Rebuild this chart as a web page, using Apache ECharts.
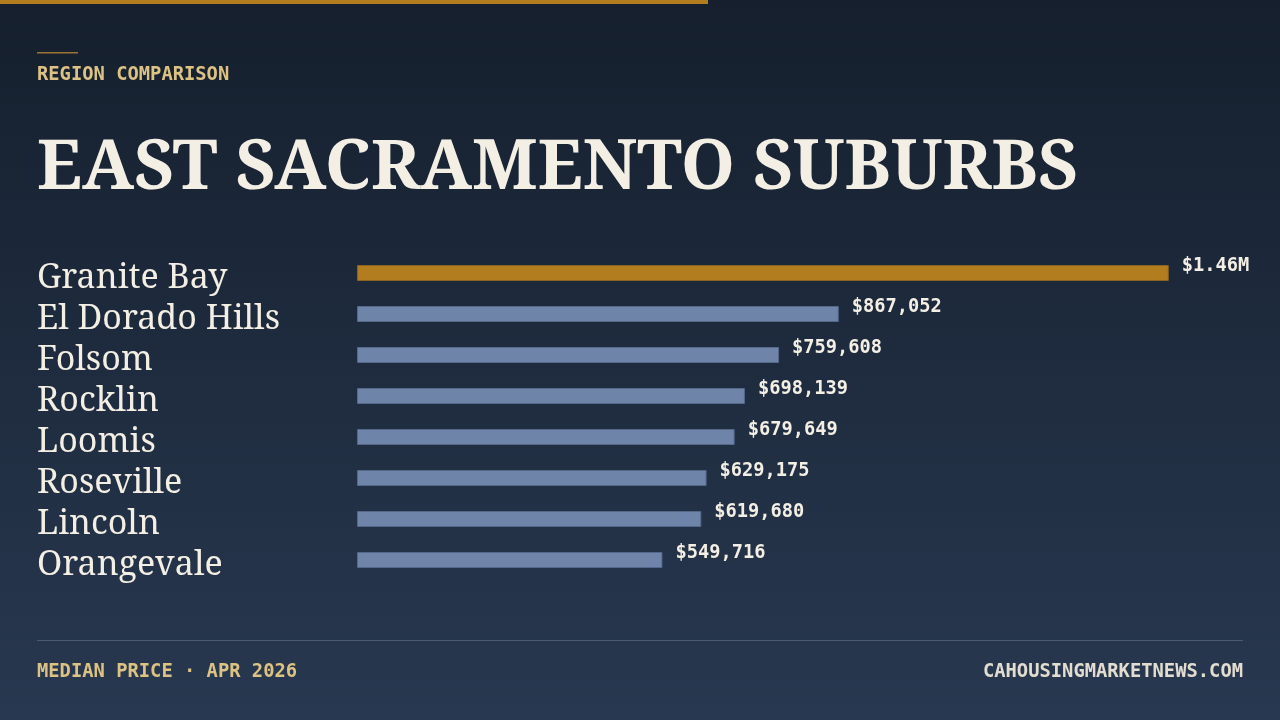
<!DOCTYPE html>
<html>
<head>
<meta charset="utf-8">
<script src="https://cdn.jsdelivr.net/npm/echarts@6/dist/echarts.min.js"></script>
<style>
html,body{margin:0;padding:0;width:1280px;height:720px;overflow:hidden;}
#chart{width:1280px;height:720px;}
</style>
</head>
<body>
<div id="chart"></div>
<script>
const regions = ["Granite Bay","El Dorado Hills","Folsom","Rocklin","Loomis","Roseville","Lincoln","Orangevale"];
const prices = [1461000, 867052, 759608, 698139, 679649, 629175, 619680, 549716];
const priceLabels = ["$1.46M","$867,052","$759,608","$698,139","$679,649","$629,175","$619,680","$549,716"];
const kicker = "REGION COMPARISON";
const title = "EAST SACRAMENTO SUBURBS";
const footLeft = "MEDIAN PRICE · APR 2026";
const footRight = "CAHOUSINGMARKETNEWS.COM";

const GOLD = "#b27d1f", BLUE = "#6e84a8", CREAM = "#f4efe4", KICK = "#dcc283";
const SERIF = "'Noto Serif', Georgia, 'DejaVu Serif', 'Liberation Serif', serif";
const MONO = "'DejaVu Sans Mono', 'Liberation Mono', monospace";

const chart = echarts.init(document.getElementById('chart'), null, {renderer:'canvas'});
chart.setOption({
  backgroundColor: new echarts.graphic.LinearGradient(0,0,0,1,[{offset:0,color:'#151f2d'},{offset:1,color:'#283850'}]),
  animation: false,
  grid: {left: 357, top: 252.5, height: 328, width: 889},
  xAxis: {type:'value', min:0, max:1600000, show:false},
  yAxis: {
    type:'category', data: regions, inverse:true,
    axisLine:{show:false}, axisTick:{show:false}, splitLine:{show:false},
    axisLabel:{interval:0, margin:320, align:'left',
      formatter: v => '{a|' + v + '}',
      rich:{a:{color:CREAM, fontFamily:SERIF, fontSize:34, padding:[10,0,0,0]}}}
  },
  series: [{
    type:'bar', barWidth:16,
    data: prices.map((v,i)=>({value:v, itemStyle:{color: i===0?GOLD:BLUE, borderColor: i===0?'#8a6420':'#55688a', borderWidth:1}})),
    label:{show:true, position:'right', distance:13, offset:[0,-7],
      formatter: p => priceLabels[p.dataIndex],
      color:CREAM, fontFamily:MONO, fontWeight:'bold', fontSize:18.7}
  }],
  graphic: [
    {type:'rect', shape:{x:0,y:0,width:708,height:4}, style:{fill:GOLD}},
    {type:'rect', shape:{x:37,y:52,width:41,height:1.5}, style:{fill:'#9a7330'}},
    {type:'text', left:37, top:66, style:{text:kicker, fill:KICK, font:"bold 18.8px 'DejaVu Sans Mono', monospace"}},
    {type:'text', left:37, top:135, style:{text:title, fill:CREAM, font:"bold 69px "+SERIF}},
    {type:'rect', shape:{x:37,y:640,width:1206,height:1}, style:{fill:'#4b5a70'}},
    {type:'text', left:37, top:663, style:{text:footLeft, fill:KICK, font:"bold 18.8px 'DejaVu Sans Mono', monospace"}},
    {type:'text', right:37, top:663, style:{text:footRight, fill:'#e2ddd0', font:"bold 18.8px 'DejaVu Sans Mono', monospace"}}
  ]
});
</script>
</body>
</html>
